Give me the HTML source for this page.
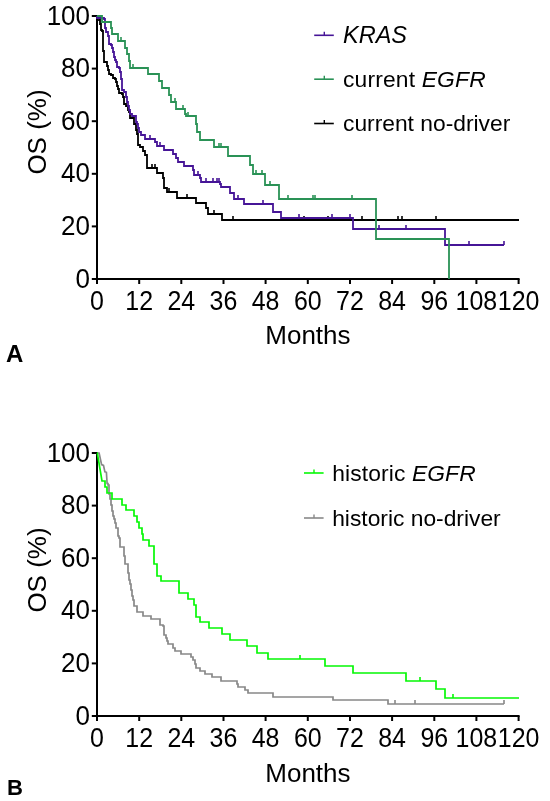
<!DOCTYPE html>
<html><head><meta charset="utf-8"><style>
html,body{margin:0;padding:0;background:#fff;}
svg{display:block;}
.t{font-family:"Liberation Sans",Arial,sans-serif;font-size:26px;fill:#000;}
.b{font-family:"Liberation Sans",Arial,sans-serif;font-size:24px;font-weight:bold;fill:#000;}
.lg{font-family:"Liberation Sans",Arial,sans-serif;font-size:22.8px;fill:#000;}
.ax{stroke:#000;stroke-width:2;}
.cv{fill:none;stroke-width:1.8;}
.tk{stroke-width:1.6;}
</style></head><body>
<svg width="550" height="801" viewBox="0 0 550 801">
<g id="A">
<line x1="97" y1="15.0" x2="97" y2="284.0" class="ax"/>
<line x1="92.0" y1="279" x2="519.6" y2="279" class="ax"/>
<line x1="91.8" y1="279.0" x2="97" y2="279.0" class="ax"/>
<text transform="translate(90,287.5) scale(1,1.06)" text-anchor="end" class="t">0</text>
<line x1="91.8" y1="226.4" x2="97" y2="226.4" class="ax"/>
<text transform="translate(90,234.9) scale(1,1.06)" text-anchor="end" class="t">20</text>
<line x1="91.8" y1="173.8" x2="97" y2="173.8" class="ax"/>
<text transform="translate(90,182.3) scale(1,1.06)" text-anchor="end" class="t">40</text>
<line x1="91.8" y1="121.2" x2="97" y2="121.2" class="ax"/>
<text transform="translate(90,129.7) scale(1,1.06)" text-anchor="end" class="t">60</text>
<line x1="91.8" y1="68.6" x2="97" y2="68.6" class="ax"/>
<text transform="translate(90,77.1) scale(1,1.06)" text-anchor="end" class="t">80</text>
<line x1="91.8" y1="16.0" x2="97" y2="16.0" class="ax"/>
<text transform="translate(90,24.5) scale(1,1.06)" text-anchor="end" class="t">100</text>
<line x1="97.0" y1="279" x2="97.0" y2="284.0" class="ax"/>
<text transform="translate(97.0,309.6) scale(0.96,1.04)" text-anchor="middle" class="t">0</text>
<line x1="139.2" y1="279" x2="139.2" y2="284.0" class="ax"/>
<text transform="translate(139.2,309.6) scale(0.96,1.04)" text-anchor="middle" class="t">12</text>
<line x1="181.3" y1="279" x2="181.3" y2="284.0" class="ax"/>
<text transform="translate(181.3,309.6) scale(0.96,1.04)" text-anchor="middle" class="t">24</text>
<line x1="223.5" y1="279" x2="223.5" y2="284.0" class="ax"/>
<text transform="translate(223.5,309.6) scale(0.96,1.04)" text-anchor="middle" class="t">36</text>
<line x1="265.6" y1="279" x2="265.6" y2="284.0" class="ax"/>
<text transform="translate(265.6,309.6) scale(0.96,1.04)" text-anchor="middle" class="t">48</text>
<line x1="307.8" y1="279" x2="307.8" y2="284.0" class="ax"/>
<text transform="translate(307.8,309.6) scale(0.96,1.04)" text-anchor="middle" class="t">60</text>
<line x1="350.0" y1="279" x2="350.0" y2="284.0" class="ax"/>
<text transform="translate(350.0,309.6) scale(0.96,1.04)" text-anchor="middle" class="t">72</text>
<line x1="392.1" y1="279" x2="392.1" y2="284.0" class="ax"/>
<text transform="translate(392.1,309.6) scale(0.96,1.04)" text-anchor="middle" class="t">84</text>
<line x1="434.3" y1="279" x2="434.3" y2="284.0" class="ax"/>
<text transform="translate(434.3,309.6) scale(0.96,1.04)" text-anchor="middle" class="t">96</text>
<line x1="476.4" y1="279" x2="476.4" y2="284.0" class="ax"/>
<text transform="translate(476.4,309.6) scale(0.96,1.04)" text-anchor="middle" class="t">108</text>
<line x1="518.6" y1="279" x2="518.6" y2="284.0" class="ax"/>
<text transform="translate(518.6,309.6) scale(0.96,1.04)" text-anchor="middle" class="t">120</text>
<text x="307.9" y="343.6" text-anchor="middle" class="t">Months</text>
<text transform="translate(46.2,132.0) rotate(-90)" text-anchor="middle" class="t">OS (%)</text>
<path d="M97,16H98V17H98V18H99V20H100V24H101V24H101V30H102V31H103V34H103V42H103V51H104V56H104V62H107V66H108V70H109V74H111V75H113V78H115V79H116V82H117V86H118V89H119V93H122V94H123V97H124V100H124V104H126V106H128V110H129V112H130V118H134V124H136V130H137V134H138V139H138V145H140V147H143V151H145V155H147V168H157V173H163V178H164V188H167V192H177V198H196V203H206V208H208V214H222V220H519V220" stroke="#000000" class="cv"/>
<path d="M152,168v-4M155,168v-4M169,192v-4M187,198v-4M214,214v-4M233,220v-4M304,220v-4M328,220v-4M362,220v-4M398,220v-4M402,220v-4M436,220v-4" stroke="#000000" class="tk"/>
<path d="M97,16H97V18H104V19H105V22H105V28H106V32H108V33H108V36H109V40H109V44H111V45H112V48H113V52H114V57H115V60H116V62H117V67H119V68H120V72H121V75H121V79H122V85H122V90H124V92H126V94H126V97H127V102H128V106H129V110H130V114H132V116H136V122H137V124H138V128H139V132H141V135H145V139H155V142H157V146H164V150H173V154H176V158H178V162H184V166H193V170H194V175H200V178H201V182H220V184H221V187H230V193H234V199H244V204H273V212H281V218H353V229H445V245H504V245" stroke="#461597" class="cv"/>
<path d="M150,139v-4M160,146v-4M198,175v-4M206,182v-4M213,182v-4M217,182v-4M219,182v-4M238,199v-4M263,204v-4M299,218v-4M332,218v-4M350,218v-4M379,229v-4M406,229v-4M469,245v-4M504,245v-4" stroke="#461597" class="tk"/>
<path d="M97,16H102V22H111V28H112V34H118V41H125V48H127V54H129V61H130V68H148V74H159V81H162V88H169V95H171V102H176V109H185V114H186V116H196V124H197V132H200V140H214V147H228V156H250V165H253V174H265V185H279V199H376V239H449V279" stroke="#2a9256" class="cv"/>
<path d="M121,41v-4M133,68v-4M175,102v-4M183,109v-4M188,116v-4M219,147v-4M221,147v-4M256,174v-4M262,174v-4M270,185v-4M288,199v-4M313,199v-4M315,199v-4M352,199v-4" stroke="#2a9256" class="tk"/>

<line x1="314.2" y1="35.3" x2="333.8" y2="35.3" stroke="#461597" stroke-width="1.6"/><line x1="324.3" y1="35.3" x2="324.3" y2="31.8" stroke="#461597" stroke-width="1.4"/>
<text x="343" y="42.9" class="lg" font-style="italic" style="font-size:23.5px">KRAS</text>
<line x1="314.2" y1="79.2" x2="333.8" y2="79.2" stroke="#2a9256" stroke-width="1.6"/><line x1="324.3" y1="79.2" x2="324.3" y2="75.7" stroke="#2a9256" stroke-width="1.4"/>
<text x="343" y="86.7" class="lg" textLength="142.6" lengthAdjust="spacing">current <tspan font-style="italic">EGFR</tspan></text>
<line x1="314.2" y1="123.5" x2="333.8" y2="123.5" stroke="#000" stroke-width="1.6"/><line x1="324.3" y1="123.5" x2="324.3" y2="120" stroke="#000" stroke-width="1.4"/>
<text x="343" y="131" class="lg">current no-driver</text>

</g>
<g id="B">
<line x1="97" y1="452.0" x2="97" y2="721.0" class="ax"/>
<line x1="92.0" y1="716" x2="519.6" y2="716" class="ax"/>
<line x1="91.8" y1="716.0" x2="97" y2="716.0" class="ax"/>
<text transform="translate(90,724.5) scale(1,1.06)" text-anchor="end" class="t">0</text>
<line x1="91.8" y1="663.4" x2="97" y2="663.4" class="ax"/>
<text transform="translate(90,671.9) scale(1,1.06)" text-anchor="end" class="t">20</text>
<line x1="91.8" y1="610.8" x2="97" y2="610.8" class="ax"/>
<text transform="translate(90,619.3) scale(1,1.06)" text-anchor="end" class="t">40</text>
<line x1="91.8" y1="558.2" x2="97" y2="558.2" class="ax"/>
<text transform="translate(90,566.7) scale(1,1.06)" text-anchor="end" class="t">60</text>
<line x1="91.8" y1="505.6" x2="97" y2="505.6" class="ax"/>
<text transform="translate(90,514.1) scale(1,1.06)" text-anchor="end" class="t">80</text>
<line x1="91.8" y1="453.0" x2="97" y2="453.0" class="ax"/>
<text transform="translate(90,461.5) scale(1,1.06)" text-anchor="end" class="t">100</text>
<line x1="97.0" y1="716" x2="97.0" y2="721.0" class="ax"/>
<text transform="translate(97.0,747.3) scale(0.96,1.04)" text-anchor="middle" class="t">0</text>
<line x1="139.2" y1="716" x2="139.2" y2="721.0" class="ax"/>
<text transform="translate(139.2,747.3) scale(0.96,1.04)" text-anchor="middle" class="t">12</text>
<line x1="181.3" y1="716" x2="181.3" y2="721.0" class="ax"/>
<text transform="translate(181.3,747.3) scale(0.96,1.04)" text-anchor="middle" class="t">24</text>
<line x1="223.5" y1="716" x2="223.5" y2="721.0" class="ax"/>
<text transform="translate(223.5,747.3) scale(0.96,1.04)" text-anchor="middle" class="t">36</text>
<line x1="265.6" y1="716" x2="265.6" y2="721.0" class="ax"/>
<text transform="translate(265.6,747.3) scale(0.96,1.04)" text-anchor="middle" class="t">48</text>
<line x1="307.8" y1="716" x2="307.8" y2="721.0" class="ax"/>
<text transform="translate(307.8,747.3) scale(0.96,1.04)" text-anchor="middle" class="t">60</text>
<line x1="350.0" y1="716" x2="350.0" y2="721.0" class="ax"/>
<text transform="translate(350.0,747.3) scale(0.96,1.04)" text-anchor="middle" class="t">72</text>
<line x1="392.1" y1="716" x2="392.1" y2="721.0" class="ax"/>
<text transform="translate(392.1,747.3) scale(0.96,1.04)" text-anchor="middle" class="t">84</text>
<line x1="434.3" y1="716" x2="434.3" y2="721.0" class="ax"/>
<text transform="translate(434.3,747.3) scale(0.96,1.04)" text-anchor="middle" class="t">96</text>
<line x1="476.4" y1="716" x2="476.4" y2="721.0" class="ax"/>
<text transform="translate(476.4,747.3) scale(0.96,1.04)" text-anchor="middle" class="t">108</text>
<line x1="518.6" y1="716" x2="518.6" y2="721.0" class="ax"/>
<text transform="translate(518.6,747.3) scale(0.96,1.04)" text-anchor="middle" class="t">120</text>
<text x="307.9" y="781.6" text-anchor="middle" class="t">Months</text>
<text transform="translate(46.2,570.0) rotate(-90)" text-anchor="middle" class="t">OS (%)</text>
<path d="M97,453L99.1,453.0L101.6,464.6L103.5,465.4L104.9,471.9L106.4,472.3L107.1,483.5H108V485H109V487H109V494H110V499H111V505H112V510H112V511H113V516H114V519H115V523H116V528H118V534H118V536H119V538H120V547H124V556H125V564H128V573H129V577H129V580H130V584H131V590H132V596H133V600H134V606H137V612H143V616H151V619H160V625H163V626H164V629H164V635H166V638H167V641H168V644H173V648H175V651H181V654H191V657H193V660H195V664H196V668H200V671H205V674H212V677H221V681H237V684H238V687H245V690H248V693H273V697H333V700H388V704H504V704" stroke="#888888" class="cv" style="stroke-width:1.7px"/>
<path d="M395,704v-4M415,704v-4M504,704v-4" stroke="#888888" class="tk"/>
<path d="M97,453L97.3,453.0L102.0,481.0H105V487H107V493H112V499H122V505H126V510H134V516H137V522H139V528H142V534H143V540H149V546H154V552H154V564H157V576H161V581H179V593H188V599H194V605H196V610H196V617H200V622H209V628H222V634H230V640H247V646H257V653H268V659H325V666H353V673H406V681H436V689H445V698H519V698" stroke="#05f805" class="cv" style="stroke-width:1.7px"/>
<path d="M300,659v-4M420,681v-4M453,698v-4" stroke="#05f805" class="tk"/>

<line x1="304" y1="473" x2="323.6" y2="473" stroke="#05f805" stroke-width="1.6"/><line x1="314" y1="473" x2="314" y2="469.5" stroke="#05f805" stroke-width="1.4"/>
<text x="332.2" y="480.7" class="lg" textLength="143.4" lengthAdjust="spacing">historic <tspan font-style="italic">EGFR</tspan></text>
<line x1="304" y1="518" x2="323.6" y2="518" stroke="#888888" stroke-width="1.6"/><line x1="314" y1="518" x2="314" y2="514.5" stroke="#888888" stroke-width="1.4"/>
<text x="332.2" y="525.5" class="lg">historic no-driver</text>

</g>
<text transform="translate(6,362.2) scale(1,0.965)" class="b">A</text>
<text transform="translate(7,794.8) scale(0.92,0.93)" class="b">B</text>
</svg>
</body></html>
